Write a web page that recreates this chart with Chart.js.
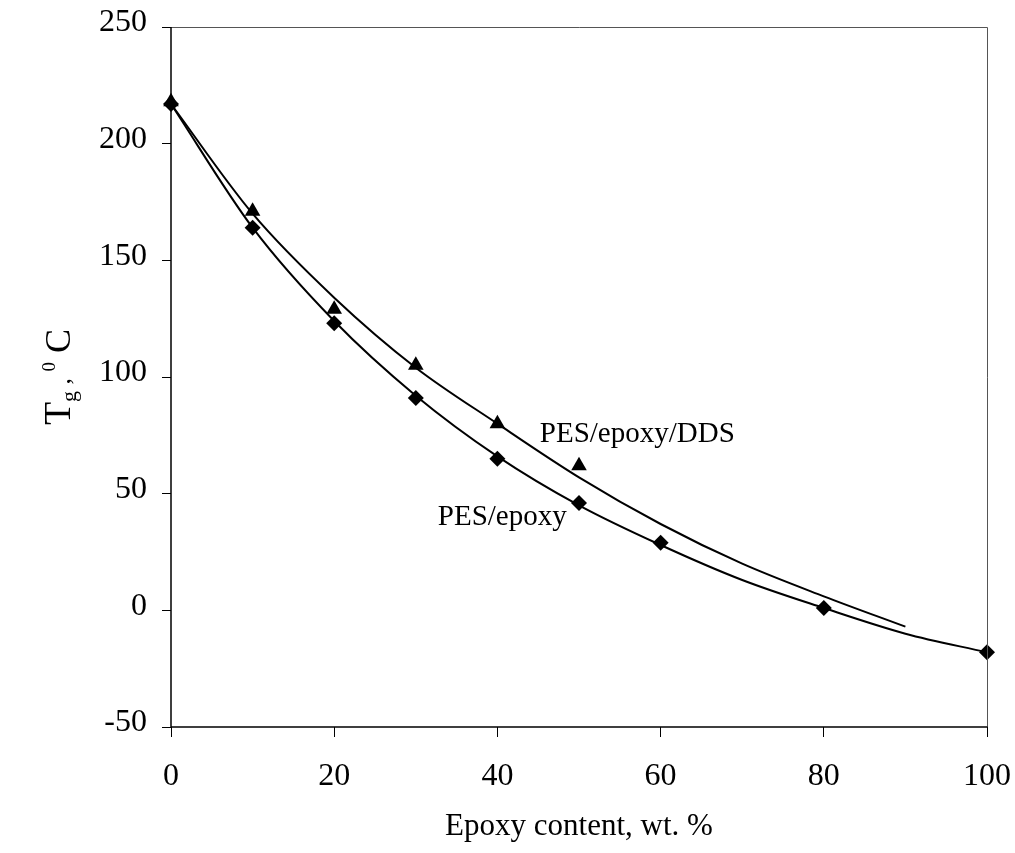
<!DOCTYPE html>
<html>
<head>
<meta charset="utf-8">
<script src="https://cdn.jsdelivr.net/npm/chart.js@4/dist/chart.umd.min.js"></script>
<style>
  html, body { margin: 0; padding: 0; background: #fff; }
  #wrap { width: 1015px; height: 853px; position: relative; }
</style>
</head>
<body>
<div id="wrap"><canvas id="tg-chart"></canvas></div>
<script>
// ─── DATA ───────────────────────────────────────────────────────────
// measured points
const epoxyPct = [0, 10, 20, 30, 40, 50, 60, 80, 100];
const tgPesEpoxy = [217, 164, 123, 91, 65, 46, 29, 1, -18];
const ddsPct = [0, 10, 20, 30, 40, 50];
const tgPesEpoxyDds = [218, 171, 129, 105, 80, 62];

// fitted curves
const fitPct = [0, 10, 20, 30, 40, 50, 60, 70, 80, 90, 100];
const fitPesEpoxy = [217, 164, 124, 92, 66, 45, 28, 13, 1, -10, -18];
const fitDdsPct = [0, 10, 20, 30, 40, 50, 60, 70, 80, 90];
const fitPesEpoxyDds = [217, 170, 134, 104, 80, 57, 37, 20, 6, -7];

const xTicks = [0, 20, 40, 60, 80, 100];
const yTicks = [-50, 0, 50, 100, 150, 200, 250];

// curve labels: [text, x value, y value at baseline]
const curveLabels = [
  ['PES/epoxy/DDS', 45.2, 72],
  ['PES/epoxy', 32.7, 36.4]
];

const toPts = (xs, ys) => xs.map((x, i) => ({ x, y: ys[i] }));
const SERIF = '"Liberation Serif", "Times New Roman", serif';

// box round the plot, y title with sub/superscript, curve labels
const decor = {
  id: 'decor',
  afterDraw(chart) {
    const { ctx, chartArea: a, scales } = chart;
    ctx.save();
    // top & right frame (lighter), left & bottom axes (black)
    ctx.strokeStyle = '#555';
    ctx.lineWidth = 1;
    ctx.beginPath();
    ctx.moveTo(a.left, a.top + 0.5); ctx.lineTo(a.right + 0.5, a.top + 0.5); ctx.lineTo(a.right + 0.5, a.bottom);
    ctx.stroke();
    ctx.strokeStyle = '#000';
    ctx.lineWidth = 1.5;
    ctx.beginPath();
    ctx.moveTo(a.left, a.top); ctx.lineTo(a.left, a.bottom); ctx.lineTo(a.right + 0.5, a.bottom);
    ctx.stroke();

    // curve labels
    ctx.fillStyle = '#000';
    ctx.font = '29px ' + SERIF;
    ctx.textBaseline = 'alphabetic';
    ctx.textAlign = 'left';
    curveLabels.forEach(([t, xv, yv]) => {
      ctx.fillText(t, scales.x.getPixelForValue(xv), scales.y.getPixelForValue(yv));
    });

    // y title: T_g , ^0 C  (rotated)
    const parts = [
      { t: 'T', f: 38, dy: 0 },
      { t: 'g', f: 22, dy: 6 },
      { t: ' , ', f: 26, dy: 0 },
      { t: '0', f: 19, dy: -15 },
      { t: ' C', f: 36, dy: 0 }
    ];
    let total = 0;
    parts.forEach(p => { ctx.font = p.f + 'px ' + SERIF; p.w = ctx.measureText(p.t).width; total += p.w; });
    const midY = (a.top + a.bottom) / 2;
    ctx.translate(70, midY + total / 2);
    ctx.rotate(-Math.PI / 2);
    let cx = 0;
    parts.forEach(p => {
      ctx.font = p.f + 'px ' + SERIF;
      ctx.fillText(p.t, cx, p.dy);
      cx += p.w;
    });
    ctx.restore();
  }
};

const tickFont = { family: SERIF, size: 32 };

new Chart(document.getElementById('tg-chart'), {
  type: 'scatter',
  data: {
    datasets: [
      { label: 'fit PES/epoxy', data: toPts(fitPct, fitPesEpoxy), showLine: true, pointRadius: 0,
        borderColor: '#000', borderWidth: 2, cubicInterpolationMode: 'monotone', clip: false },
      { label: 'fit PES/epoxy/DDS', data: toPts(fitDdsPct, fitPesEpoxyDds), showLine: true, pointRadius: 0,
        borderColor: '#000', borderWidth: 2, cubicInterpolationMode: 'monotone', clip: false },
      { label: 'PES/epoxy', data: toPts(epoxyPct, tgPesEpoxy), pointStyle: 'rectRot', pointRadius: 8,
        backgroundColor: '#000', borderColor: '#000', borderWidth: 0, clip: false },
      { label: 'PES/epoxy/DDS', data: toPts(ddsPct, tgPesEpoxyDds), pointStyle: 'triangle', pointRadius: 9,
        backgroundColor: '#000', borderColor: '#000', borderWidth: 0, clip: false }
    ]
  },
  options: {
    responsive: true,
    maintainAspectRatio: false,
    animation: false,
    layout: { padding: { top: 27, right: 28, left: 0, bottom: 0 } },
    plugins: { legend: { display: false }, tooltip: { enabled: false } },
    scales: {
      x: {
        type: 'linear', min: 0, max: 100,
        afterBuildTicks: s => { s.ticks = xTicks.map(v => ({ value: v })); },
        afterFit: s => { s.height = 126; s.paddingLeft = 0; s.paddingRight = 0; },
        ticks: { font: tickFont, color: '#000', padding: 20, maxRotation: 0 },
        grid: { display: true, drawOnChartArea: false, drawTicks: true, tickLength: 10, color: '#000', lineWidth: 1 },
        border: { display: false },
        title: { display: true, text: 'Epoxy content, wt. %', color: '#000',
          font: { family: SERIF, size: 31 }, padding: { top: 0, bottom: 8 } }
      },
      y: {
        type: 'linear', min: -50, max: 250,
        afterBuildTicks: s => { s.ticks = yTicks.map(v => ({ value: v })); },
        afterFit: s => { s.width = 171; s.paddingTop = 0; s.paddingBottom = 0; },
        ticks: { font: tickFont, color: '#000', padding: 15, labelOffset: -4 },
        grid: { display: true, drawOnChartArea: false, drawTicks: true, tickLength: 9, color: '#000', lineWidth: 1 },
        border: { display: false }
      }
    }
  },
  plugins: [decor]
});
</script>
</body>
</html>
